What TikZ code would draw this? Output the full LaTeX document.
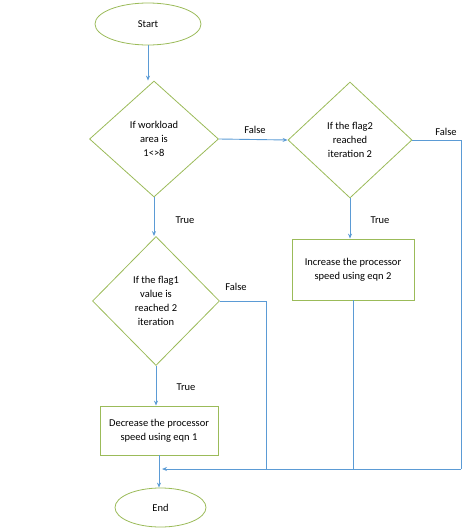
\documentclass[tikz,border=0pt]{standalone}
\usepackage{fontspec}
\setmainfont{Carlito}
\usetikzlibrary{shapes.geometric,arrows.meta}
\definecolor{boxgreen}{HTML}{9BBB59}
\definecolor{linkblue}{HTML}{5B9BD5}

\begin{document}
\begin{tikzpicture}[x=1pt,y=-1pt,->,>={Stealth[length=5pt,width=4pt]},
    every node/.style={font=\fontsize{10.5}{13.8}\selectfont,align=center},
    term/.style={ellipse,draw=boxgreen,line width=0.8pt},
    decision/.style={diamond,draw=boxgreen,line width=0.8pt,inner sep=0pt},
    process/.style={rectangle,draw=boxgreen,line width=0.8pt},
    link/.style={draw=linkblue,line width=0.9pt}]
    \useasboundingbox (0,0) rectangle (474,530);

    \node[term,minimum width=106pt,minimum height=42pt] (start) at (148,24) {Start};
    \node[decision,minimum width=129pt,minimum height=116pt] (d1) at (154,139) {If workload\\area is\\1<>8};
    \node[decision,minimum width=124pt,minimum height=116pt] (d2) at (350,140) {If the flag2\\reached\\iteration 2};
    \node[decision,minimum width=127pt,minimum height=129pt] (d3) at (156,301) {If the flag1\\value is\\reached 2\\iteration};
    \node[process,minimum width=122pt,minimum height=61pt] (b2) at (353,269.5) {Increase the processor\\speed using eqn 2};
    \node[process,minimum width=118pt,minimum height=49pt] (b1) at (159,430.5) {Decrease the processor\\speed using eqn 1};
    \node[term,minimum width=91pt,minimum height=39pt] (end) at (160.5,507.5) {End};

    % labels
    \node (f1) at (255,130) {False};
    \node (t1) at (185,220) {True};
    \node (f2) at (446,132) {False};
    \node (t2) at (380,220) {True};
    \node (f3) at (236,287) {False};
    \node (t3) at (186,387) {True};

    % joins on the return line
    \coordinate (j3) at (266,469);
    \coordinate (j1) at (461,469);
    \coordinate (m) at (162,469);

    \draw[link] (start.south) -- (start.south |- d1.north);
    \draw[link] (d1.east) -- (d2.west);
    \draw[link] (d1.south) -- (d1.south |- d3.north);
    \draw[link] (d2.south) -- (d2.south |- b2.north);
    \draw[link] (d3.south) -- (d3.south |- b1.north);
    \draw[link] (b1.south) -- (b1.south |- end.north);
    \draw[link,-] (d3.east) -| (j3);
    \draw[link,-] (b2.south) -- (b2.south |- j1);
    \draw[link,-] (d2.east) -| (j1);
    \draw[link] (j1) -- (m);
\end{tikzpicture}
\end{document}
